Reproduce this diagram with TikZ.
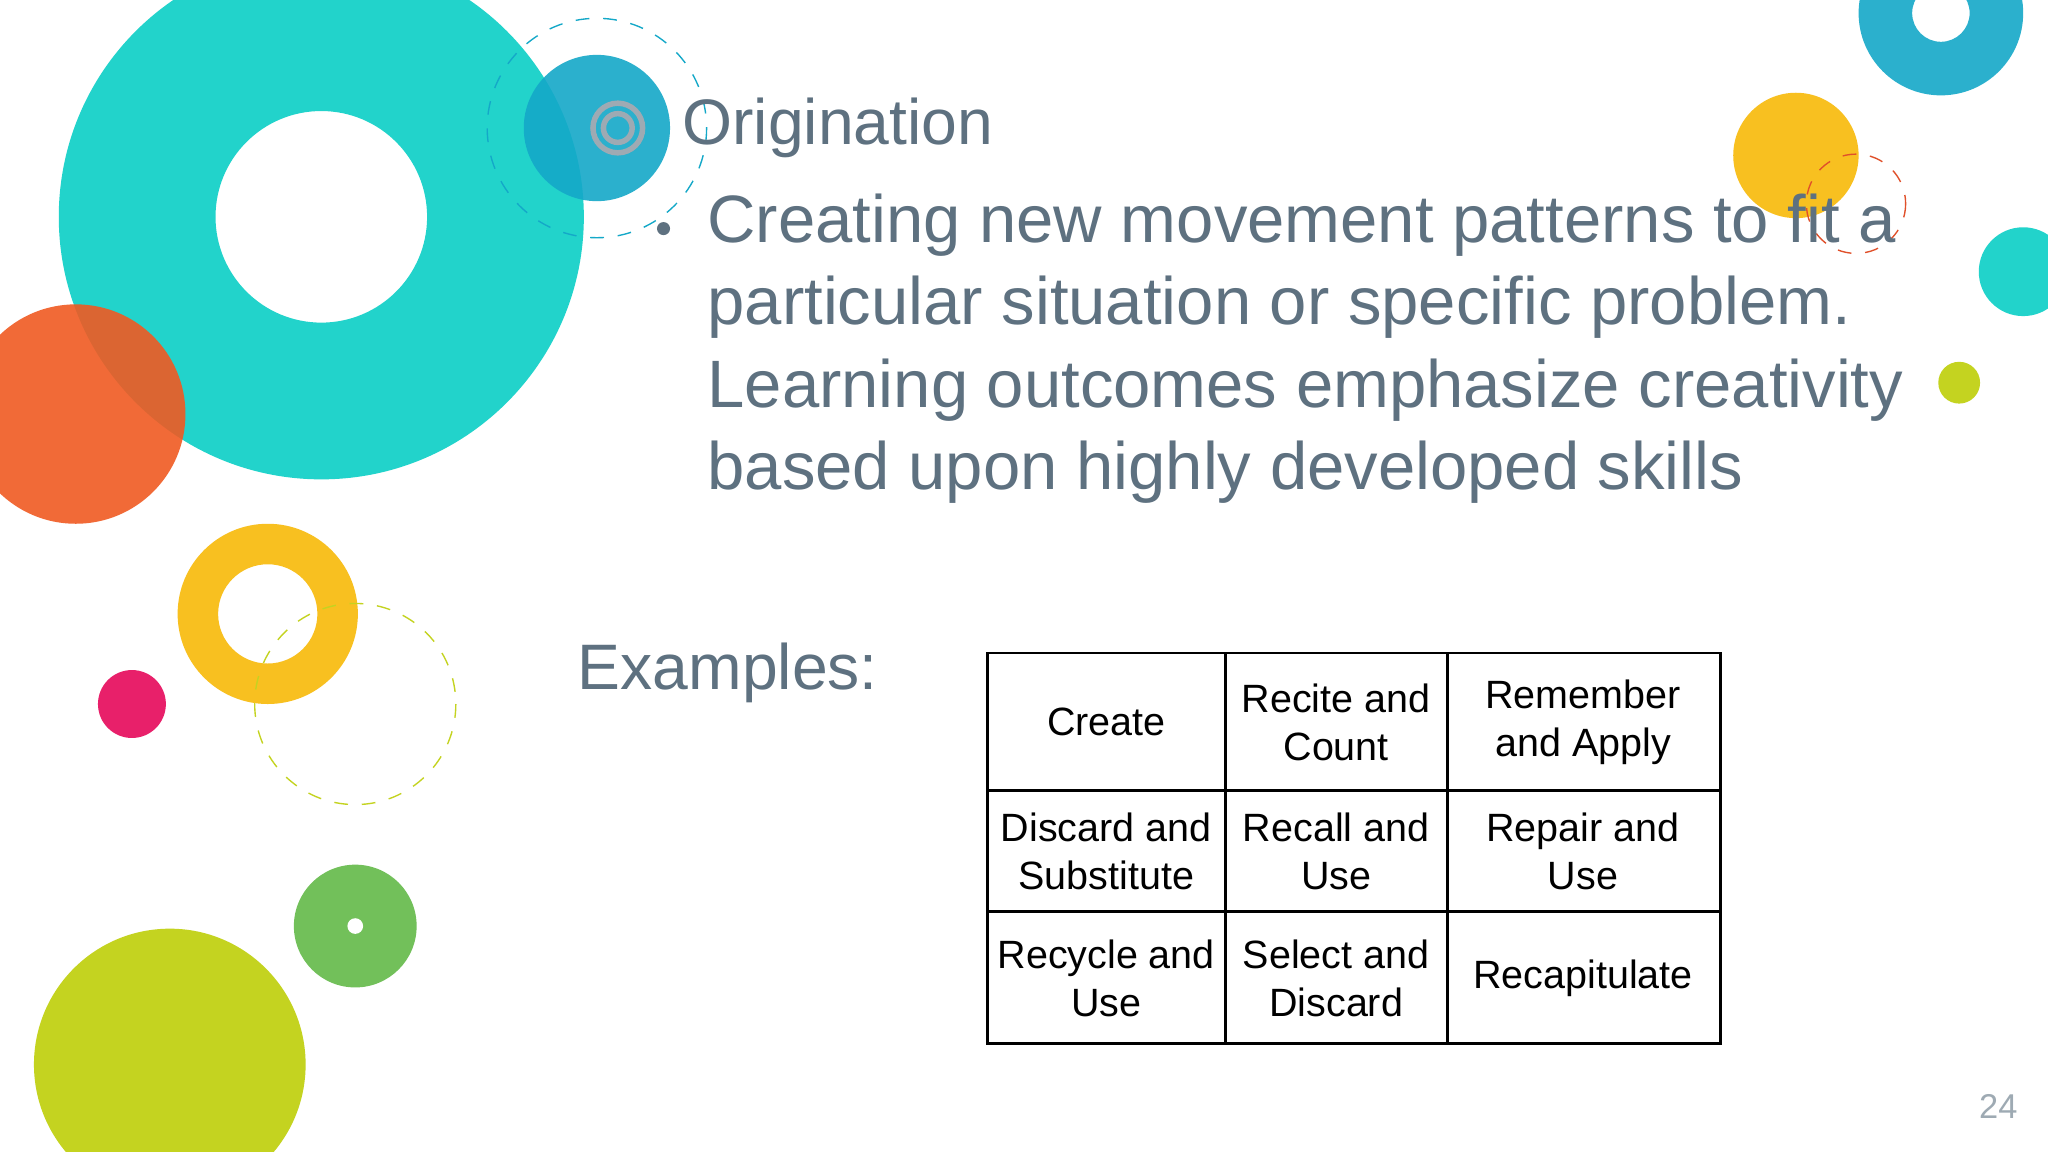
\documentclass[tikz,border=0pt]{standalone}
\usepackage{fontspec}
\setmainfont{Liberation Sans}
\definecolor{teal1}{HTML}{22D3CB}
\definecolor{orng}{HTML}{F05A22}
\definecolor{blu}{HTML}{14A8C8}
\definecolor{yel}{HTML}{F8C020}
\definecolor{lime}{HTML}{C4D320}
\definecolor{pnk}{HTML}{E8206A}
\definecolor{grn}{HTML}{72C05A}
\definecolor{txt}{HTML}{5E7180}
\definecolor{redd}{HTML}{E0502A}
\tikzset{cell/.style={align=center,font=\fontsize{8.6}{10.4}\selectfont,text=black}}
\begin{document}
\begin{tikzpicture}[x=0.1mm,y=-0.1mm]
\useasboundingbox[fill=white] (0,0) rectangle (1568,882);
\begin{scope}
\clip (0,0) rectangle (1568,882);
\fill[teal1,even odd rule] (246,166) circle[radius=201] (246,166) circle[radius=81];
\fill[orng,opacity=0.9] (58,317) circle[radius=84];
\fill[blu,opacity=0.9] (457,98) circle[radius=56];
\draw[blu,dashed,line width=0.3pt] (457,98) circle[radius=84];
\fill[blu,opacity=0.9,even odd rule] (1486,10) circle[radius=63] (1486,10) circle[radius=22];
\fill[yel] (1375,119) circle[radius=48];
\draw[redd,dashed,line width=0.3pt] (1421,156) circle[radius=38];
\fill[teal1] (1549,208) circle[radius=34];
\fill[lime] (1500,293) circle[radius=16];
\fill[yel,even odd rule] (205,470) circle[radius=69] (205,470) circle[radius=38];
\draw[lime,dashed,line width=0.3pt] (272,539) circle[radius=77];
\fill[pnk] (101,539) circle[radius=26];
\fill[grn] (272,709) circle[radius=47];
\fill[white] (272,709) circle[radius=6];
\fill[lime] (130,815) circle[radius=104];
\end{scope}
\draw[txt!60,line width=1.2pt] (473,98) circle[radius=19] (473,98) circle[radius=11];
\node[anchor=west,text=txt,font=\fontsize{14}{16}\selectfont] (title) at (510,98) {Origination};
\fill[txt] (508,175) circle[radius=5];
\node[anchor=north west,text=txt,align=left,font=\fontsize{14.6}{17.9}\selectfont,inner sep=0] (body) at (541,148)
{Creating new movement patterns to fit a\\particular situation or specific problem.\\Learning outcomes emphasize creativity\\based upon highly developed skills};
\node[anchor=west,text=txt,font=\fontsize{14}{16}\selectfont] (ex) at (430,515) {Examples:};
\draw[black,line width=0.6pt] (756,500) rectangle (1317,799)
 (938,500) -- (938,799) (1108,500) -- (1108,799)
 (756,605) -- (1317,605) (756,698) -- (1317,698);
\node[cell] (c11) at (847,553) {Create};
\node[cell] (c12) at (1023,553) {Recite and\\Count};
\node[cell] (c13) at (1212,553) {Remember\\and Apply};
\node[cell] (c21) at (847,652) {Discard and\\Substitute};
\node[cell] (c22) at (1023,652) {Recall and\\Use};
\node[cell] (c23) at (1212,652) {Repair and\\Use};
\node[cell] (c31) at (847,749) {Recycle and\\Use};
\node[cell] (c32) at (1023,749) {Select and\\Discard};
\node[cell] (c33) at (1212,749) {Recapitulate};
\node[text=txt!60,font=\fontsize{7.5}{9}\selectfont] (pg) at (1530,847) {24};
\end{tikzpicture}
\end{document}
